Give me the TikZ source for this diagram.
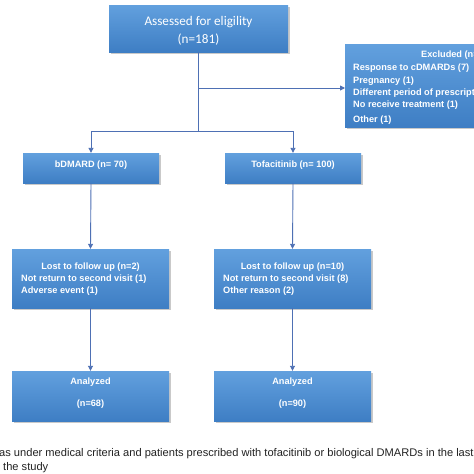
\documentclass[tikz,border=0pt]{standalone}
\usepackage{fontspec}
\setmainfont{Liberation Sans}
\newfontfamily\calfont{Carlito}
\usetikzlibrary{shadows,arrows.meta}
\definecolor{boxtop}{RGB}{98,160,222}
\definecolor{boxbot}{RGB}{62,126,196}
\definecolor{linec}{RGB}{78,112,180}
\definecolor{captc}{RGB}{34,34,34}
\tikzset{
  box/.style={rectangle, inner sep=0pt, top color=boxtop, bottom color=boxbot,
    draw=none, drop shadow={shadow xshift=1.5pt, shadow yshift=-2pt, opacity=0.35, fill=black!60}},
  btxt/.style={text=white, font=\bfseries\fontsize{9.2}{11}\selectfont, inner sep=0pt},
  ttxt/.style={text=white, font=\calfont\fontsize{13.2}{15}\selectfont, inner sep=0pt},
  conn/.style={draw=linec, line width=0.9pt},
  arr/.style={conn, -{Triangle[width=5pt,length=5pt]}},
  capt/.style={text=captc, font=\fontsize{11.1}{13}\selectfont, inner sep=0pt, anchor=base west}
}
\begin{document}
\begin{tikzpicture}[x=1pt,y=-1pt]
\useasboundingbox (0,0) rectangle (474,474);
\fill[white] (0,0) rectangle (474,474);
\clip (0,0) rectangle (474,474);
% boxes
\node[box, minimum width=179pt, minimum height=47pt] (top) at (198.5,28.5) {};
\node[box, minimum width=140pt, minimum height=83pt, anchor=north west] (excl) at (345,44) {};
\node[box, minimum width=136pt, minimum height=30pt] (bd) at (91,168) {};
\node[box, minimum width=136pt, minimum height=30pt] (tf) at (293,168) {};
\node[box, minimum width=157pt, minimum height=59pt] (lbd) at (90.5,278.5) {};
\node[box, minimum width=157pt, minimum height=59pt] (ltf) at (292.5,278.5) {};
\node[box, minimum width=157pt, minimum height=50pt] (abd) at (90.5,396) {};
\node[box, minimum width=157pt, minimum height=50pt] (atf) at (292.5,396) {};
% texts
\node[ttxt] (t1) at (198.5,22) {Assessed for eligility};
\node[ttxt] (t2) at (198.5,40) {(n=181)};
\node[btxt, anchor=west] (e0) at (421,55) {Excluded (n=11)};
\node[btxt, anchor=west] (e1) at (353,68) {Response to cDMARDs (7)};
\node[btxt, anchor=west] (e2) at (353,81) {Pregnancy (1)};
\node[btxt, anchor=west] (e3) at (353,93) {Different period of prescription (1)};
\node[btxt, anchor=west] (e4) at (353,105) {No receive treatment (1)};
\node[btxt, anchor=west] (e5) at (353,120) {Other (1)};
\node[btxt] (b1) at (91,165) {bDMARD (n= 70)};
\node[btxt] (f1) at (293,165) {Tofacitinib (n= 100)};
\node[btxt] (lb0) at (90.5,267) {Lost to follow up (n=2)};
\node[btxt, anchor=west] (lb1) at (21,279) {Not return to second visit (1)};
\node[btxt, anchor=west] (lb2) at (21,291) {Adverse event (1)};
\node[btxt] (lf0) at (292.5,267) {Lost to follow up (n=10)};
\node[btxt, anchor=west] (lf1) at (223,279) {Not return to second visit (8)};
\node[btxt, anchor=west] (lf2) at (223,291) {Other reason (2)};
\node[btxt] (ab0) at (90.5,382) {Analyzed};
\node[btxt] (ab1) at (90.5,404) {(n=68)};
\node[btxt] (af0) at (292.5,382) {Analyzed};
\node[btxt] (af1) at (292.5,404) {(n=90)};
% connectors
\coordinate (j1) at (198.5,88);
\coordinate (j2) at (198.5,131);
\draw[conn] (top.south) -- (j2);
\draw[arr] (j1) -- (j1 -| excl.west);
\draw[arr] (j2) -| (bd.north);
\draw[arr] (j2) -| (tf.north);
\draw[arr] (bd.south) -- (lbd.north);
\draw[arr] (tf.south) -- (ltf.north);
\draw[arr] (lbd.south) -- (abd.north);
\draw[arr] (ltf.south) -- (atf.north);
% caption
\node[capt] (c1) at (-1,456) {as under medical criteria and patients prescribed with tofacitinib or biological DMARDs in the last};
\node[capt] (c2) at (3,470) {the study};
\end{tikzpicture}
\end{document}
